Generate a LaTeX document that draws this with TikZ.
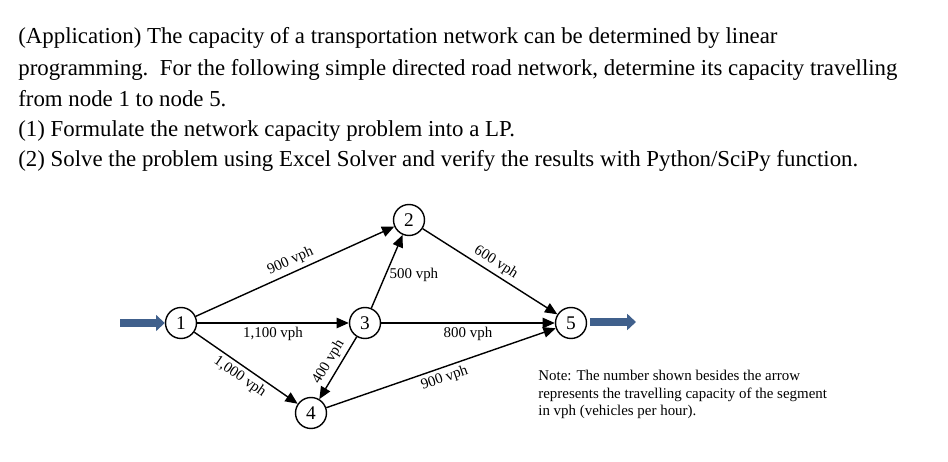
\documentclass[tikz,border=0pt]{standalone}
\usepackage{fontspec}
\setmainfont{Liberation Serif}
\usetikzlibrary{positioning,arrows.meta}

\begin{document}
\begin{tikzpicture}
[
	x	= 0.02cm,	% one pixel of the reference
	y	= -0.02cm,
	city/.style	= {shape = circle, draw = black, thick, inner sep = 0pt, minimum size = 0.62cm, font = \fontsize{11}{11}\selectfont},
	road/.style	= {thick, -{Triangle[length=7pt,width=6pt]}},
	vph/.style	= {font = \fontsize{8.5}{8.5}\selectfont, inner sep = 2pt},
	flow/.style	= {draw = {rgb,255:red,64;green,96;blue,140}, line width = 4pt, -{Triangle[length=5pt,width=9pt]}},
	line/.style	= {anchor = west, inner sep = 0pt, font = \fontsize{13}{15}\selectfont},
]
\useasboundingbox (0,0) rectangle (948,462);

{
	% question text
	\node (tOne) [line] at (18,38) {(Application) The capacity of a transportation network can be determined by linear};
	\node (tTwo) [line] at (18,70) {programming.\ \ For the following simple directed road network, determine its capacity travelling};
	\node (tThree) [line] at (18,99) {from node 1 to node 5.};
	\node (tFour) [line] at (18,131) {(1) Formulate the network capacity problem into a LP.};
	\node (tFive) [line] at (18,161) {(2) Solve the problem using Excel Solver and verify the results with Python/SciPy function.};

	% nodes declaration
	\node (nOne) [city] at (181,323) {1};
	\node (nTwo) [city] at (409,220) {2};
	\node (nThree) [city] at (365,323) {3};
	\node (nFour) [city] at (311,413) {4};
	\node (nFive) [city] at (571,323) {5};

	\coordinate (cIn) at (120,323);
	\coordinate (cOut) at (590,322);
	\coordinate (cEnd) at (636,322);

	% edges declaration
	\draw [road] (nOne) -- node [vph, above, sloped] {900 vph} (nTwo);
	\draw [road] (nOne) -- node [vph, below] {1,100 vph} (nThree);
	\draw [road] (nOne) -- node [vph, below, sloped] {1,000 vph} (nFour);
	\draw [road] (nThree) -- node [vph, right, pos = 0.45] {500 vph} (nTwo);
	\draw [road] (nThree) -- node [vph, above, sloped] {400 vph} (nFour);
	\draw [road] (nThree) -- node [vph, below] {800 vph} (nFive);
	\draw [road] (nTwo) -- node [vph, above, sloped] {600 vph} (nFive);
	\draw [road] (nFour) -- node [vph, below, sloped] {900 vph} (nFive);

	\draw [flow] (cIn) -- (nOne.west);
	\draw [flow] (cOut) -- (cEnd);

	% note
	\node (tNote) [anchor = north west, align = left, inner sep = 0pt, font = \fontsize{8.5}{10}\selectfont] at (538,370)
		{Note: The number shown besides the arrow\\represents the travelling capacity of the segment\\in vph (vehicles per hour).};
}

\end{tikzpicture}
\end{document}
